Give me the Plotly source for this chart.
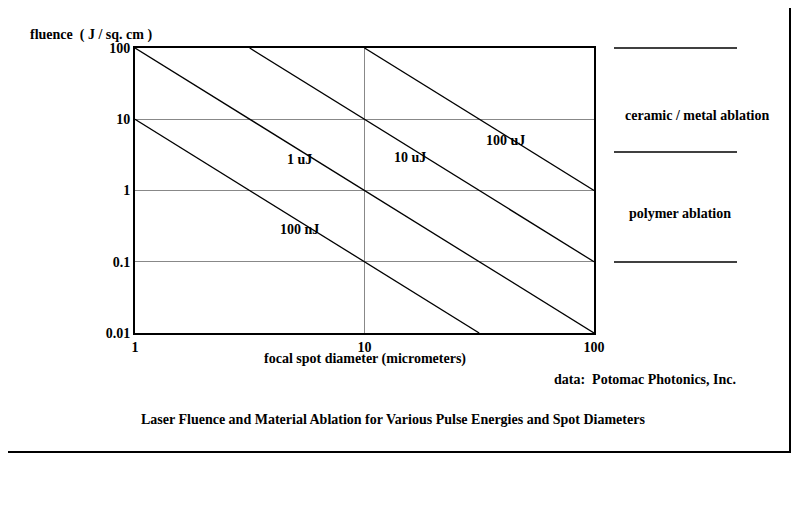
import math
import plotly.graph_objects as go

# Lines (focal spot diameter um, fluence J/cm^2)
line_names = ["100 nJ", "1 uJ", "10 uJ", "100 uJ"]
line_x = [[1, 31.6], [1, 100], [3.16, 100], [10, 100]]
line_y = [[10, 0.01], [100, 0.01], [100, 0.1], [100, 1]]
label_x = [5.2, 5.2, 15.8, 41]
label_y = [0.28, 2.7, 2.9, 5.0]
x_ticks = [1, 10, 100]
y_ticks = [0.01, 0.1, 1, 10, 100]
y_tick_text = ["0.01", "0.1", "1", "10", "100"]

F = "Liberation Serif"
fig = go.Figure()
for n, xs, ys in zip(line_names, line_x, line_y):
    fig.add_trace(go.Scatter(x=xs, y=ys, mode="lines", line=dict(color="black", width=1.3),
                             showlegend=False, name=n))
for n, lx, ly in zip(line_names, label_x, label_y):
    fig.add_annotation(x=math.log10(lx), y=math.log10(ly), text="<b>%s</b>" % n,
                       showarrow=False, font=dict(family=F, size=14, color="black"))

ax = dict(type="log", showline=True, linecolor="black", linewidth=2, mirror=True,
          showgrid=True, gridcolor="#888", gridwidth=1, ticks="", zeroline=False,
          tickfont=dict(family=F, size=14, color="black"))
fig.update_xaxes(**ax, range=[0, 2], tickvals=x_ticks, ticktext=["<b>%d</b>" % v for v in x_ticks])
fig.update_yaxes(**ax, range=[-2, 2], tickvals=y_ticks, ticktext=["<b>%s</b>" % t for t in y_tick_text])

def px(x): return (x - 135) / 459
def py(y): return (333 - y) / 285

anns = [
    ("fluence  ( J / sq. cm )", 28, 25, "left"),
    ("focal spot diameter (micrometers)", 365, 369, "center"),
    ("data:  Potomac Photonics, Inc.", 645, 389, "center"),
    ("Laser Fluence and Material Ablation for Various Pulse Energies and Spot Diameters", 393, 429, "center"),
    ("ceramic / metal ablation", 697, 106, "center"),
    ("polymer ablation", 680, 213, "center"),
]
for t, x, y, a in anns:
    fig.add_annotation(xref="paper", yref="paper", x=px(x), y=py(y), text="<b>%s</b>" % t,
                       showarrow=False, xanchor=a, font=dict(family=F, size=14, color="black"))

for yy in [48, 152, 262]:
    fig.add_shape(type="line", xref="paper", yref="paper", x0=px(614), x1=px(737), y0=py(yy), y1=py(yy),
                  line=dict(color="black", width=1.3))
fig.add_shape(type="rect", xref="paper", yref="paper", x0=px(1), x1=px(790), y0=py(452), y1=py(-2),
              line=dict(color="black", width=2))

fig.update_layout(width=800, height=506, margin=dict(l=127, r=214, t=40, b=181),
                  plot_bgcolor="white", paper_bgcolor="white")
fig.write_html("out.html")
